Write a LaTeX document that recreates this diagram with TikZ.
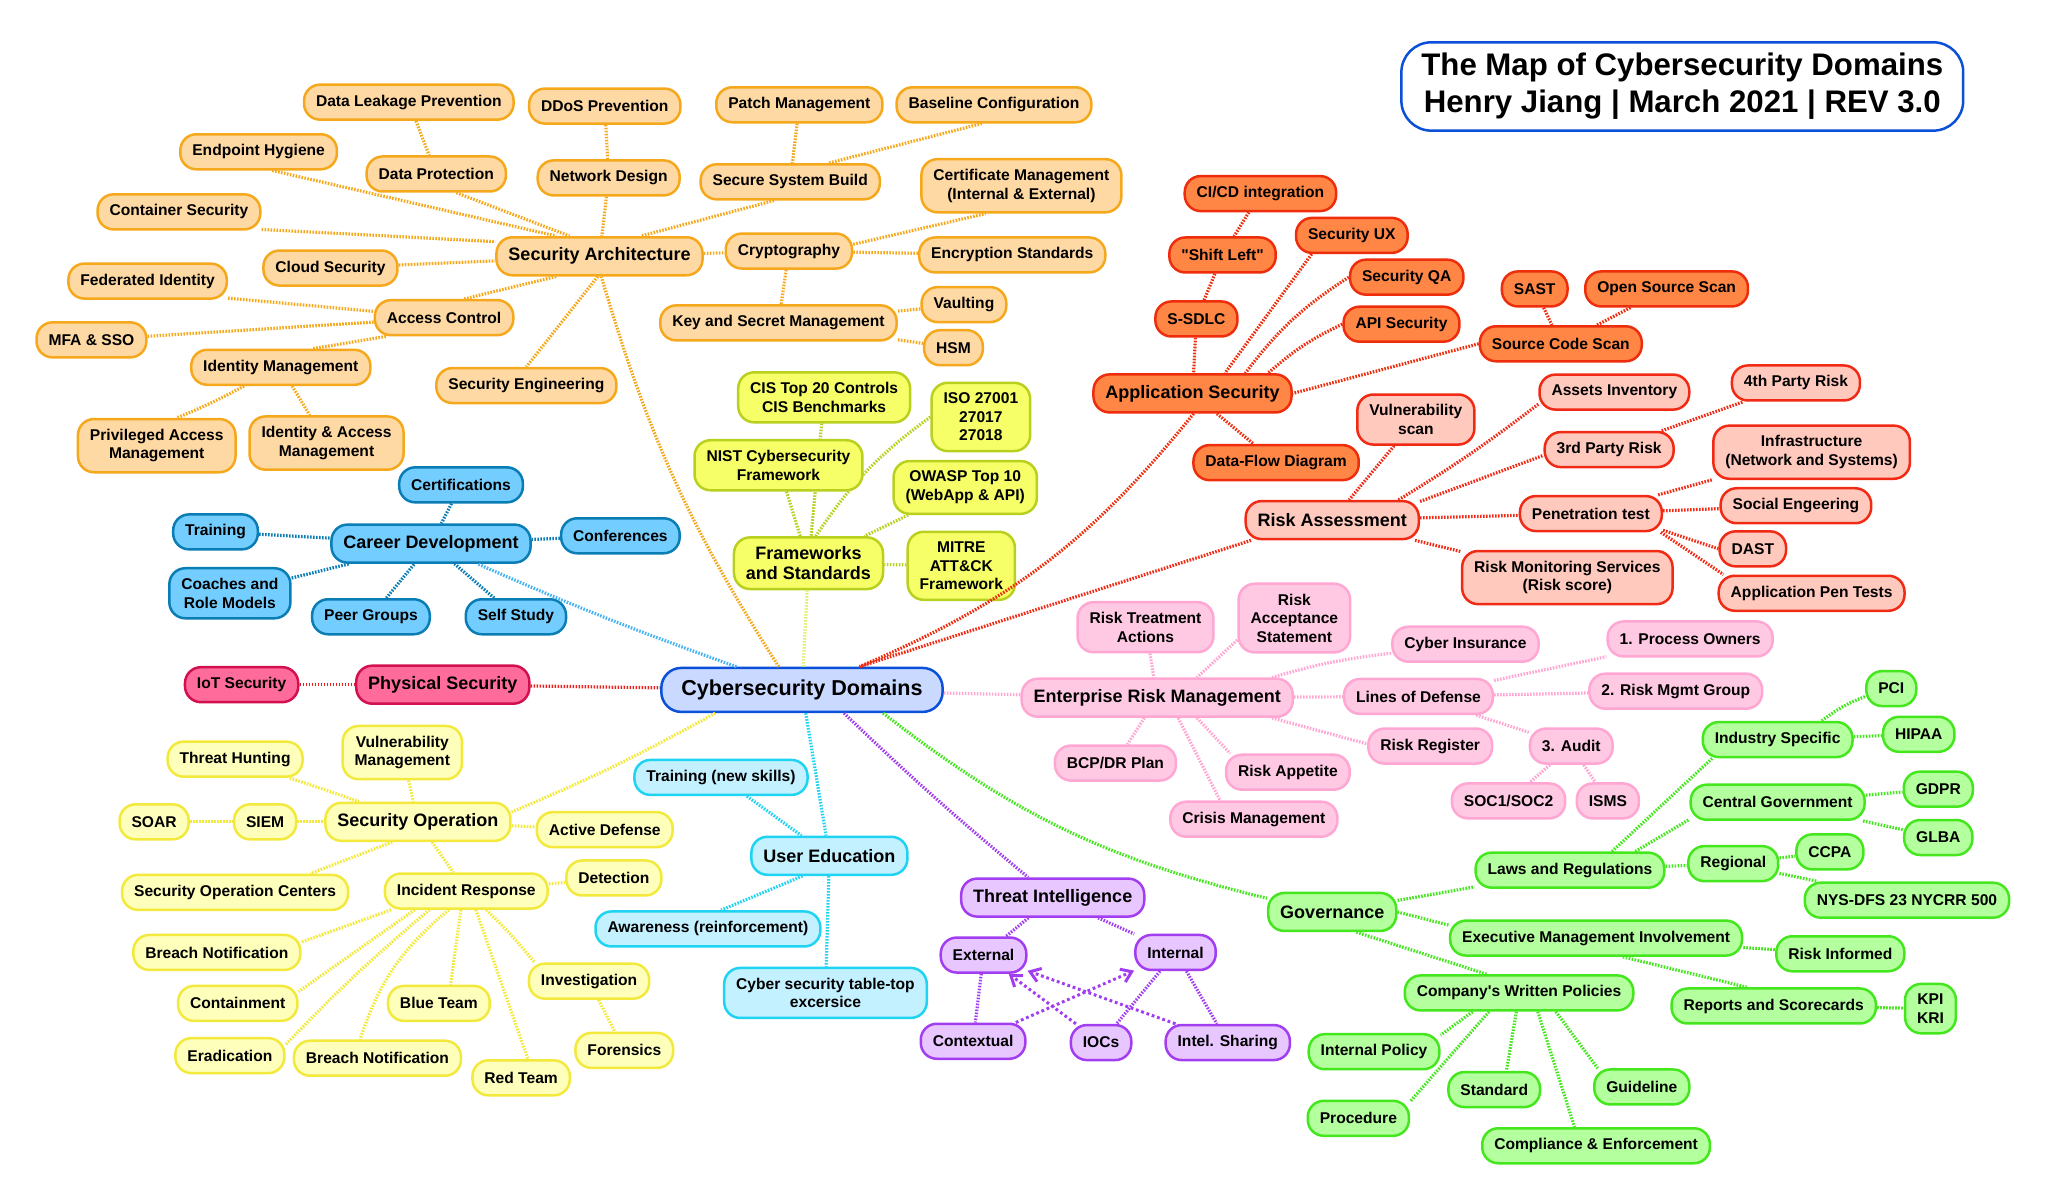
\documentclass[tikz,border=0pt]{standalone}
\usepackage{fontspec}
\defaultfontfeatures[\rmfamily]{}
\setmainfont{Liberation Sans}
\usetikzlibrary{shapes.geometric, arrows, arrows.meta}
\definecolor{orangefill}{HTML}{FFD9A3}
\definecolor{orangeline}{HTML}{F5A81C}
\definecolor{appfill}{HTML}{FF8645}
\definecolor{appline}{HTML}{EE2D0C}
\definecolor{riskfill}{HTML}{FFC9BD}
\definecolor{riskline}{HTML}{F02A14}
\definecolor{pinkfill}{HTML}{FFC9E3}
\definecolor{pinkline}{HTML}{FFA6D2}
\definecolor{greenfill}{HTML}{B4FF9E}
\definecolor{greenline}{HTML}{44E61E}
\definecolor{purplefill}{HTML}{E8C6FF}
\definecolor{purpleline}{HTML}{A23EF0}
\definecolor{cyanfill}{HTML}{C3F1FF}
\definecolor{cyanline}{HTML}{1FD3F2}
\definecolor{yellowfill}{HTML}{FFFFBC}
\definecolor{yellowline}{HTML}{F2E93C}
\definecolor{limefill}{HTML}{F6FF68}
\definecolor{limeline}{HTML}{B9D01E}
\definecolor{paleline}{HTML}{E4EE78}
\definecolor{bluefill}{HTML}{74CDFF}
\definecolor{blueline}{HTML}{0A7DB4}
\definecolor{skyline}{HTML}{48B4F0}
\definecolor{magfill}{HTML}{FF6C9C}
\definecolor{magline}{HTML}{D2104F}
\definecolor{rootfill}{HTML}{CAD9FF}
\definecolor{rootline}{HTML}{0A50D8}
\definecolor{physline}{HTML}{E8201C}
\pgfdeclarelayer{links}
\pgfsetlayers{links,main}
\tikzstyle{box} = [rectangle, rounded corners=8pt, minimum height=17.5pt, inner xsep=6pt, inner ysep=5pt, align=center, line width=1.25pt, font=\fontsize{7.8}{9.3}\selectfont\bfseries]
\tikzstyle{big} = [font=\fontsize{9}{10.2}\selectfont\bfseries, minimum height=19pt, inner ysep=4.5pt]
\tikzstyle{orangebox} = [box, fill=orangefill, draw=orangeline]
\tikzstyle{appbox} = [box, fill=appfill, draw=appline]
\tikzstyle{riskbox} = [box, fill=riskfill, draw=riskline]
\tikzstyle{pinkbox} = [box, fill=pinkfill, draw=pinkline]
\tikzstyle{greenbox} = [box, fill=greenfill, draw=greenline]
\tikzstyle{purplebox} = [box, fill=purplefill, draw=purpleline]
\tikzstyle{cyanbox} = [box, fill=cyanfill, draw=cyanline]
\tikzstyle{yellowbox} = [box, fill=yellowfill, draw=yellowline]
\tikzstyle{limebox} = [box, fill=limefill, draw=limeline]
\tikzstyle{bluebox} = [box, fill=bluefill, draw=blueline]
\tikzstyle{magbox} = [box, fill=magfill, draw=magline]
\tikzstyle{link} = [line width=1.6pt, dash pattern=on 0.8pt off 0.7pt]
\tikzstyle{orangelink} = [link, draw=orangeline]
\tikzstyle{applink} = [link, draw=appline]
\tikzstyle{risklink} = [link, draw=riskline]
\tikzstyle{pinklink} = [link, draw=pinkline]
\tikzstyle{greenlink} = [link, draw=greenline]
\tikzstyle{purplelink} = [link, draw=purpleline]
\tikzstyle{cyanlink} = [link, draw=cyanline]
\tikzstyle{yellowlink} = [link, draw=yellowline]
\tikzstyle{limelink} = [link, draw=limeline]
\tikzstyle{bluelink} = [link, draw=blueline]
\tikzstyle{physlink} = [link, draw=physline]
\tikzstyle{arrow} = [line width=1.5pt, draw=purpleline, dash pattern=on 1.4pt off 1.4pt, ->, >={Straight Barb[length=5pt,width=7pt]}]
\begin{document}
\begin{tikzpicture}[x=0.65306pt, y=-0.65306pt]
\useasboundingbox (0,-1.2) rectangle (1568,917.55);
% title and root
\node (title) [box, draw=rootline, fill=white, rounded corners=15pt, inner xsep=10pt, inner ysep=5.5pt, font=\fontsize{15.6}{18.4}\selectfont\bfseries] at (1288,65) {The Map of Cybersecurity Domains\\Henry Jiang | March 2021 | REV 3.0};
\node (root) [box, draw=rootline, fill=rootfill, font=\fontsize{10.8}{12}\selectfont\bfseries, minimum height=22pt, inner xsep=10pt, rounded corners=10pt] at (614,527) {Cybersecurity Domains};
% security architecture
\node (dlp) [orangebox] at (313,77) {Data Leakage Prevention};
\node (ddos) [orangebox] at (463,80) {DDoS Prevention};
\node (patch) [orangebox] at (612,79) {Patch Management};
\node (baseline) [orangebox] at (761,79) {Baseline Configuration};
\node (endpoint) [orangebox] at (198,115) {Endpoint Hygiene};
\node (dataprot) [orangebox] at (334,132) {Data Protection};
\node (netdesign) [orangebox] at (466,135) {Network Design};
\node (secbuild) [orangebox] at (605,138) {Secure System Build};
\node (cert) [orangebox] at (782,141) {Certificate Management\\(Internal \& External)};
\node (container) [orangebox] at (137,161) {Container Security};
\node (secarch) [orangebox, big] at (459,195) {Security Architecture};
\node (crypto) [orangebox] at (604,191) {Cryptography};
\node (encstd) [orangebox] at (775,194) {Encryption Standards};
\node (cloud) [orangebox] at (253,204) {Cloud Security};
\node (fedid) [orangebox] at (113,214) {Federated Identity};
\node (access) [orangebox] at (340,242) {Access Control};
\node (keymgmt) [orangebox] at (596,246) {Key and Secret Management};
\node (vault) [orangebox] at (738,232) {Vaulting};
\node (hsm) [orangebox] at (730,265) {HSM};
\node (mfa) [orangebox] at (70,259) {MFA \& SSO};
\node (idm) [orangebox] at (215,280) {Identity Management};
\node (seceng) [orangebox] at (403,294) {Security Engineering};
\node (pam) [orangebox] at (120,340) {Privileged Access\\Management};
\node (iam) [orangebox] at (250,338) {Identity \& Access\\Management};
\draw [orangelink] (dlp) -- (dataprot);
\draw [orangelink] (ddos) -- (netdesign);
\draw [orangelink] (dataprot.-43) -- (secarch.146);
\draw [orangelink] (netdesign) -- (secarch);
\draw [orangelink] (endpoint.-54) -- (secarch.155);
\draw [orangelink] (container.-12) -- (secarch.172);
\draw [orangelink] (cloud) -- (secarch);
\draw [orangelink] (access.43) -- (secarch.205);
\draw [orangelink] (secarch.-95) -- (seceng.north);
\draw [orangelink] (secbuild.229) -- (secarch.26);
\draw [orangelink] (patch) -- (secbuild);
\draw [orangelink] (baseline.237) -- (secbuild.26);
\draw [orangelink] (secarch) -- (crypto);
\draw [orangelink] (crypto.6) -- (cert.218);
\draw [orangelink] (crypto) -- (encstd);
\draw [orangelink] (crypto) -- (keymgmt);
\draw [orangelink] (keymgmt) -- (vault);
\draw [orangelink] (keymgmt) -- (hsm);
\draw [orangelink] (fedid.-12) -- (access);
\draw [orangelink] (mfa) -- (access);
\draw [orangelink] (idm.30) -- (access.198);
\draw [orangelink] (idm.207) to[bend left=3] (pam.54);
\draw [orangelink] (idm) -- (iam);
\draw [orangelink] (root.135) to[bend left=8] (secarch.-85);
% frameworks
\node (cis) [limebox] at (631,303) {CIS Top 20 Controls\\CIS Benchmarks};
\node (iso) [limebox] at (751,318) {ISO 27001\\27017\\27018};
\node (nist) [limebox] at (596,355) {NIST Cybersecurity\\Framework};
\node (owasp) [limebox] at (739,372) {OWASP Top 10\\(WebApp \& API)};
\node (frameworks) [limebox, big] at (619,430) {Frameworks\\and Standards};
\node (mitre) [limebox] at (736,432) {MITRE\\ATT\&CK\\Framework};
\begin{pgfonlayer}{links}
\draw [limelink] (cis) -- (frameworks);
\draw [limelink] (iso.west) to[bend right=10] (frameworks.75);
\end{pgfonlayer}
\draw [limelink] (nist) -- (frameworks);
\draw [limelink] (owasp) -- (frameworks);
\draw [limelink] (mitre) -- (frameworks);
\draw [link, draw=paleline] (root) -- (frameworks);
% career development
\node (certif) [bluebox] at (353,370) {Certifications};
\node (training) [bluebox] at (165,406) {Training};
\node (career) [bluebox, big] at (330,415) {Career Development};
\node (conf) [bluebox] at (475,409) {Conferences};
\node (coaches) [bluebox] at (176,453) {Coaches and\\Role Models};
\node (peer) [bluebox] at (284,471) {Peer Groups};
\node (selfstudy) [bluebox] at (395,471) {Self Study};
\draw [bluelink] (certif) -- (career);
\draw [bluelink] (training) -- (career);
\draw [bluelink] (conf) -- (career);
\draw [bluelink] (coaches) -- (career);
\draw [bluelink] (peer) -- (career);
\draw [bluelink] (selfstudy) -- (career);
\draw [link, draw=skyline] (root) to[bend left=2] (career);
% physical security
\node (iot) [magbox] at (185,523) {IoT Security};
\node (physical) [magbox, big] at (339,523) {Physical Security};
\draw [physlink] (iot) -- (physical);
\draw [physlink] (physical) -- (root);
% application security
\node (cicd) [appbox] at (965,147) {CI/CD integration};
\node (shift) [appbox] at (936,194) {"Shift Left"};
\node (secux) [appbox] at (1035,179) {Security UX};
\node (secqa) [appbox] at (1077,211) {Security QA};
\node (ssdlc) [appbox] at (916,243) {S-SDLC};
\node (apisec) [appbox] at (1073,247) {API Security};
\node (sast) [appbox] at (1175,220) {SAST};
\node (oss) [appbox] at (1276,220) {Open Source Scan};
\node (codescan) [appbox] at (1195,262) {Source Code Scan};
\node (appsec) [appbox, big] at (913,300) {Application Security};
\node (dfd) [appbox] at (977,353) {Data-Flow Diagram};
\draw [applink] (cicd) -- (shift);
\draw [applink] (shift) -- (ssdlc);
\draw [applink] (ssdlc) -- (appsec);
\draw [applink] (secux.205) -- (appsec.32);
\draw [applink] (secqa.west) to[bend right=10] (appsec.21);
\draw [applink] (apisec.west) to[bend right=8] (appsec.15);
\draw [applink] (sast) -- (codescan);
\draw [applink] (oss) -- (codescan);
\draw [applink] (codescan.west) -- (appsec.east);
\draw [applink] (appsec) -- (dfd);
\draw [applink] (appsec.-87) to[bend left=14] (root.22);
% risk assessment
\node (assets) [riskbox] at (1236,299) {Assets Inventory};
\node (party4) [riskbox] at (1375,292) {4th Party Risk};
\node (vulnscan) [riskbox] at (1084,320) {Vulnerability\\scan};
\node (party3) [riskbox] at (1232,343) {3rd Party Risk};
\node (infra) [riskbox] at (1387,345) {Infrastructure\\(Network and Systems)};
\node (riskas) [riskbox, big] at (1020,397) {Risk Assessment};
\node (pentest) [riskbox] at (1218,392) {Penetration test};
\node (social) [riskbox] at (1375,386) {Social Engeering};
\node (dast) [riskbox] at (1342,419) {DAST};
\node (monitor) [riskbox] at (1200,441) {Risk Monitoring Services\\(Risk score)};
\node (apppen) [riskbox] at (1387,453) {Application Pen Tests};
\draw [risklink] (vulnscan) -- (riskas);
\draw [risklink] (riskas.17) to[bend right=3] (assets.189);
\draw [risklink] (riskas.12) -- (party3.185);
\draw [risklink] (party3) -- (party4);
\draw [risklink] (riskas) -- (pentest);
\draw [risklink] (riskas) -- (monitor);
\draw [risklink] (pentest) -- (infra);
\draw [risklink] (pentest) -- (social);
\draw [risklink] (pentest.-13) -- (dast.west);
\draw [risklink] (pentest.-15) -- (apppen.168);
\draw [risklink] (riskas.194) -- (root.22);
% enterprise risk management
\node (treatment) [pinkbox] at (877,479) {Risk Treatment\\Actions};
\node (acceptance) [pinkbox] at (991,472) {Risk\\Acceptance\\Statement};
\node (cyberins) [pinkbox] at (1122,492) {Cyber Insurance};
\node (owners) [pinkbox] at (1294,488) {1. Process Owners};
\node (erm) [pinkbox, big] at (886,533) {Enterprise Risk Management};
\node (defense) [pinkbox] at (1086,532) {Lines of Defense};
\node (riskmgmt) [pinkbox] at (1283,528) {2. Risk Mgmt Group};
\node (register) [pinkbox] at (1095,570) {Risk Register};
\node (audit) [pinkbox] at (1203,570) {3. Audit};
\node (bcp) [pinkbox] at (854,583) {BCP/DR Plan};
\node (appetite) [pinkbox] at (986,590) {Risk Appetite};
\node (crisis) [pinkbox] at (960,626) {Crisis Management};
\node (soc) [pinkbox] at (1155,612) {SOC1/SOC2};
\node (isms) [pinkbox] at (1231,612) {ISMS};
\draw [pinklink] (root) -- (erm);
\draw [pinklink] (treatment) -- (erm);
\draw [pinklink] (acceptance.201) -- (erm.27);
\draw [pinklink] (erm.10) to[bend left=5] (cyberins.187);
\draw [pinklink] (erm) -- (defense);
\draw [pinklink] (erm.-10) -- (register.178);
\draw [pinklink] (erm) -- (bcp);
\draw [pinklink] (erm.-27) -- (appetite.162);
\draw [pinklink] (erm.-44) -- (crisis.151);
\draw [pinklink] (defense) -- (owners);
\draw [pinklink] (defense) -- (riskmgmt);
\draw [pinklink] (defense) -- (audit);
\draw [pinklink] (audit) -- (soc);
\draw [pinklink] (audit) -- (isms);
% governance
\node (pci) [greenbox] at (1448,526) {PCI};
\node (hipaa) [greenbox] at (1469,561) {HIPAA};
\node (industry) [greenbox] at (1361,565) {Industry Specific};
\node (central) [greenbox] at (1361,613) {Central Government};
\node (gdpr) [greenbox] at (1484,603) {GDPR};
\node (glba) [greenbox] at (1484,640) {GLBA};
\node (ccpa) [greenbox] at (1401,651) {CCPA};
\node (regional) [greenbox] at (1327,660) {Regional};
\node (laws) [greenbox] at (1202,665) {Laws and Regulations};
\node (nys) [greenbox] at (1460,688) {NYS-DFS 23 NYCRR 500};
\node (governance) [greenbox, big] at (1020,697) {Governance};
\node (exec) [greenbox] at (1222,717) {Executive Management Involvement};
\node (informed) [greenbox] at (1409,729) {Risk Informed};
\node (policies) [greenbox] at (1163,759) {Company's Written Policies};
\node (reports) [greenbox] at (1358,769) {Reports and Scorecards};
\node (kpi) [greenbox] at (1478,771) {KPI\\KRI};
\node (intpolicy) [greenbox] at (1052,804) {Internal Policy};
\node (standard) [greenbox] at (1144,833) {Standard};
\node (guideline) [greenbox] at (1257,831) {Guideline};
\node (procedure) [greenbox] at (1040,855) {Procedure};
\node (compliance) [greenbox] at (1222,876) {Compliance \& Enforcement};
\draw [greenlink] (root.-16) to[bend right=12] (governance);
\draw [greenlink] (governance) -- (laws);
\draw [greenlink] (governance.east) -- (exec.175);
\draw [greenlink] (governance.-40) -- (policies.150);
\draw [greenlink] (laws.24) -- (industry.196);
\draw [greenlink] (laws.16) -- (central.191);
\draw [greenlink] (laws) -- (regional);
\draw [greenlink] (industry.23) to[bend left=8] (pci);
\draw [greenlink] (industry) -- (hipaa);
\draw [greenlink] (central) -- (gdpr);
\draw [greenlink] (central) -- (glba);
\draw [greenlink] (regional) -- (ccpa);
\draw [greenlink] (regional) -- (nys);
\draw [greenlink] (exec) -- (informed);
\draw [greenlink] (exec.-35) -- (reports.145);
\draw [greenlink] (reports) -- (kpi);
\draw [greenlink] (policies.202) -- (intpolicy.14);
\draw [greenlink] (policies.212) -- (procedure.18);
\draw [greenlink] (policies.262) -- (standard.57);
\draw [greenlink] (policies.-45) -- (compliance.139);
\draw [greenlink] (policies.-27) -- (guideline.157);
% threat intelligence
\node (threat) [purplebox, big] at (806,686) {Threat Intelligence};
\node (external) [purplebox] at (753,730) {External};
\node (internal) [purplebox] at (900,728) {Internal};
\node (contextual) [purplebox] at (745,796) {Contextual};
\node (iocs) [purplebox] at (843,797) {IOCs};
\node (sharing) [purplebox] at (940,797) {Intel. Sharing};
\draw [purplelink] (root.-29) to[bend right=2] (threat);
\draw [purplelink] (threat) -- (external);
\draw [purplelink] (threat) -- (internal);
\draw [purplelink] (external) -- (contextual);
\draw [purplelink] (internal) -- (iocs);
\draw [purplelink] (internal) -- (sharing);
\draw [arrow] (contextual) -- (internal);
\draw [arrow] (iocs) -- (external);
\draw [arrow] (sharing) -- (external);
% user education
\node (newskills) [cyanbox] at (552,594) {Training (new skills)};
\node (useredu) [cyanbox, big] at (635,654) {User Education};
\node (awareness) [cyanbox] at (542,710) {Awareness (reinforcement)};
\node (tabletop) [cyanbox] at (632,759) {Cyber security table-top\\excersice};
\draw [cyanlink] (root) -- (useredu);
\draw [cyanlink] (newskills) -- (useredu);
\draw [cyanlink] (useredu.217) -- (awareness.55);
\draw [cyanlink] (useredu) -- (tabletop);
% security operation
\node (hunting) [yellowbox] at (180,580) {Threat Hunting};
\node (vulnmgmt) [yellowbox] at (308,575) {Vulnerability\\Management};
\node (soar) [yellowbox] at (118,628) {SOAR};
\node (siem) [yellowbox] at (203,628) {SIEM};
\node (secop) [yellowbox, big] at (320,628) {Security Operation};
\node (active) [yellowbox] at (463,634) {Active Defense};
\node (centers) [yellowbox] at (180,682) {Security Operation Centers};
\node (incident) [yellowbox] at (357,681) {Incident Response};
\node (detection) [yellowbox] at (470,671) {Detection};
\node (breachone) [yellowbox] at (166,728) {Breach Notification};
\node (invest) [yellowbox] at (451,750) {Investigation};
\node (contain) [yellowbox] at (182,767) {Containment};
\node (blueteam) [yellowbox] at (336,767) {Blue Team};
\node (eradicate) [yellowbox] at (176,807) {Eradication};
\node (breachtwo) [yellowbox] at (289,809) {Breach Notification};
\node (redteam) [yellowbox] at (399,824) {Red Team};
\node (forensics) [yellowbox] at (478,803) {Forensics};
\draw [yellowlink] (root.195) to[bend left=3] (secop.6);
\draw [yellowlink] (hunting) -- (secop);
\draw [yellowlink] (vulnmgmt) -- (secop);
\draw [yellowlink] (soar) -- (siem);
\draw [yellowlink] (siem) -- (secop);
\draw [yellowlink] (secop) -- (active);
\draw [yellowlink] (secop.218) -- (centers.14);
\draw [yellowlink] (secop) -- (incident);
\draw [yellowlink] (incident) -- (detection);
\draw [yellowlink] (incident.194) -- (breachone.7);
\draw [yellowlink] (incident.-43) to[bend left=3] (invest.161);
\draw [yellowlink] (incident.200) -- (contain.11);
\draw [yellowlink] (incident.254) -- (blueteam.58);
\draw [yellowlink] (incident.207) to[bend right=3] (eradicate.11);
\draw [yellowlink] (incident.227) to[bend right=16] (breachtwo.133);
\draw [yellowlink] (incident.-63) -- (redteam.70);
\draw [yellowlink] (invest) -- (forensics);
\end{tikzpicture}
\end{document}
